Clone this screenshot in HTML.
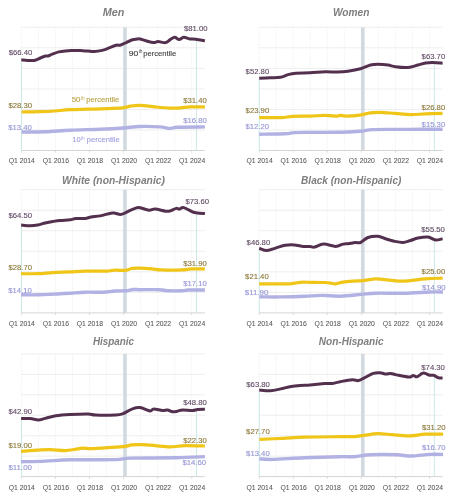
<!DOCTYPE html>
<html><head><meta charset="utf-8"><style>
html,body{margin:0;padding:0;background:#fff;width:464px;height:494px;overflow:hidden}
svg{display:block;font-family:"Liberation Sans",sans-serif;will-change:transform}
</style></head><body>
<svg width="464" height="494" viewBox="0 0 464 494">
<rect width="464" height="494" fill="#fff"/>
<line x1="21.40" y1="27.3" x2="21.40" y2="150.5" stroke="#ececec" stroke-width="0.8" stroke-dasharray="1.2 1.2"/>
<line x1="38.43" y1="27.3" x2="38.43" y2="150.5" stroke="#ececec" stroke-width="0.8" stroke-dasharray="1.2 1.2"/>
<line x1="55.46" y1="27.3" x2="55.46" y2="150.5" stroke="#ececec" stroke-width="0.8" stroke-dasharray="1.2 1.2"/>
<line x1="72.49" y1="27.3" x2="72.49" y2="150.5" stroke="#ececec" stroke-width="0.8" stroke-dasharray="1.2 1.2"/>
<line x1="89.52" y1="27.3" x2="89.52" y2="150.5" stroke="#ececec" stroke-width="0.8" stroke-dasharray="1.2 1.2"/>
<line x1="106.55" y1="27.3" x2="106.55" y2="150.5" stroke="#ececec" stroke-width="0.8" stroke-dasharray="1.2 1.2"/>
<line x1="123.58" y1="27.3" x2="123.58" y2="150.5" stroke="#ececec" stroke-width="0.8" stroke-dasharray="1.2 1.2"/>
<line x1="140.61" y1="27.3" x2="140.61" y2="150.5" stroke="#ececec" stroke-width="0.8" stroke-dasharray="1.2 1.2"/>
<line x1="157.64" y1="27.3" x2="157.64" y2="150.5" stroke="#ececec" stroke-width="0.8" stroke-dasharray="1.2 1.2"/>
<line x1="174.67" y1="27.3" x2="174.67" y2="150.5" stroke="#ececec" stroke-width="0.8" stroke-dasharray="1.2 1.2"/>
<line x1="191.70" y1="27.3" x2="191.70" y2="150.5" stroke="#ececec" stroke-width="0.8" stroke-dasharray="1.2 1.2"/>
<line x1="21.4" y1="27.30" x2="204.9" y2="27.30" stroke="#eeeeee" stroke-width="1"/>
<line x1="21.4" y1="47.83" x2="204.9" y2="47.83" stroke="#eeeeee" stroke-width="1"/>
<line x1="21.4" y1="68.37" x2="204.9" y2="68.37" stroke="#eeeeee" stroke-width="1"/>
<line x1="21.4" y1="88.90" x2="204.9" y2="88.90" stroke="#eeeeee" stroke-width="1"/>
<line x1="21.4" y1="109.43" x2="204.9" y2="109.43" stroke="#eeeeee" stroke-width="1"/>
<line x1="21.4" y1="129.97" x2="204.9" y2="129.97" stroke="#eeeeee" stroke-width="1"/>
<rect x="123.2" y="27.3" width="3.6" height="123.2" fill="#d2dadf"/>
<line x1="21.4" y1="150.5" x2="204.9" y2="150.5" stroke="#d4d4d4" stroke-width="1"/>
<line x1="21.40" y1="150.5" x2="21.40" y2="152.7" stroke="#d4d4d4" stroke-width="0.8"/>
<text x="21.80" y="163.4" font-size="7.7" fill="#5a5a5a" stroke="#5a5a5a" stroke-width="0.08" text-anchor="middle" textLength="26.2" lengthAdjust="spacingAndGlyphs">Q1 2014</text>
<line x1="55.46" y1="150.5" x2="55.46" y2="152.7" stroke="#d4d4d4" stroke-width="0.8"/>
<text x="55.86" y="163.4" font-size="7.7" fill="#5a5a5a" stroke="#5a5a5a" stroke-width="0.08" text-anchor="middle" textLength="26.2" lengthAdjust="spacingAndGlyphs">Q1 2016</text>
<line x1="89.52" y1="150.5" x2="89.52" y2="152.7" stroke="#d4d4d4" stroke-width="0.8"/>
<text x="89.92" y="163.4" font-size="7.7" fill="#5a5a5a" stroke="#5a5a5a" stroke-width="0.08" text-anchor="middle" textLength="26.2" lengthAdjust="spacingAndGlyphs">Q1 2018</text>
<line x1="123.58" y1="150.5" x2="123.58" y2="152.7" stroke="#d4d4d4" stroke-width="0.8"/>
<text x="123.98" y="163.4" font-size="7.7" fill="#5a5a5a" stroke="#5a5a5a" stroke-width="0.08" text-anchor="middle" textLength="26.2" lengthAdjust="spacingAndGlyphs">Q1 2020</text>
<line x1="157.64" y1="150.5" x2="157.64" y2="152.7" stroke="#d4d4d4" stroke-width="0.8"/>
<text x="158.04" y="163.4" font-size="7.7" fill="#5a5a5a" stroke="#5a5a5a" stroke-width="0.08" text-anchor="middle" textLength="26.2" lengthAdjust="spacingAndGlyphs">Q1 2022</text>
<line x1="191.70" y1="150.5" x2="191.70" y2="152.7" stroke="#d4d4d4" stroke-width="0.8"/>
<text x="192.10" y="163.4" font-size="7.7" fill="#5a5a5a" stroke="#5a5a5a" stroke-width="0.08" text-anchor="middle" textLength="26.2" lengthAdjust="spacingAndGlyphs">Q1 2024</text>
<line x1="21.5" y1="59.8" x2="21.5" y2="150.5" stroke="#c5e8e3" stroke-width="0.9"/>
<line x1="196.5" y1="39.4" x2="196.5" y2="150.5" stroke="#c5e8e3" stroke-width="0.9"/>
<path d="M21.60,132.00 C25.53,131.97 37.13,132.10 45.20,131.80 C53.27,131.50 60.83,130.63 70.00,130.20 C79.17,129.77 91.40,129.57 100.20,129.20 C109.00,128.83 116.17,128.45 122.80,128.00 C129.43,127.55 133.87,126.68 140.00,126.50 C146.13,126.32 154.57,126.58 159.60,126.90 C164.63,127.22 167.18,128.35 170.20,128.40 C173.22,128.45 171.92,127.45 177.70,127.20 C183.48,126.95 200.37,126.95 204.90,126.90" fill="none" stroke="#b1b1e3" stroke-width="3.4" stroke-linejoin="round"/>
<path d="M21.60,112.00 C24.53,111.95 33.63,111.87 39.20,111.70 C44.77,111.53 49.87,111.33 55.00,111.00 C60.13,110.67 62.47,110.07 70.00,109.70 C77.53,109.33 91.40,109.10 100.20,108.80 C109.00,108.50 117.78,108.35 122.80,107.90 C127.82,107.45 127.43,106.53 130.30,106.10 C133.17,105.67 135.87,105.17 140.00,105.30 C144.13,105.43 150.07,106.43 155.10,106.90 C160.13,107.37 165.93,107.93 170.20,108.10 C174.47,108.27 177.43,108.10 180.70,107.90 C183.97,107.70 185.77,107.07 189.80,106.90 C193.83,106.73 202.38,106.90 204.90,106.90" fill="none" stroke="#efc517" stroke-width="3.2" stroke-linejoin="round"/>
<path d="M21.30,59.80 C22.38,59.90 25.65,60.30 27.80,60.40 C29.95,60.50 32.27,60.72 34.20,60.40 C36.13,60.08 37.67,59.20 39.40,58.50 C41.13,57.80 43.20,56.62 44.60,56.20 C46.00,55.78 46.52,56.33 47.80,56.00 C49.08,55.67 50.47,54.88 52.30,54.20 C54.13,53.52 56.63,52.45 58.80,51.90 C60.97,51.35 63.15,51.12 65.30,50.90 C67.45,50.68 69.25,50.65 71.70,50.60 C74.15,50.55 77.32,50.52 80.00,50.60 C82.68,50.68 85.43,50.95 87.80,51.10 C90.17,51.25 91.83,51.62 94.20,51.50 C96.57,51.38 99.62,50.95 102.00,50.40 C104.38,49.85 106.13,49.07 108.50,48.20 C110.87,47.33 114.27,45.70 116.20,45.20 C118.13,44.70 118.58,45.57 120.10,45.20 C121.62,44.83 123.37,43.87 125.30,43.00 C127.23,42.13 129.77,40.65 131.70,40.00 C133.63,39.35 135.52,39.28 136.90,39.10 C138.28,38.92 138.48,38.62 140.00,38.90 C141.52,39.18 143.73,40.18 146.00,40.80 C148.27,41.42 151.58,42.47 153.60,42.60 C155.62,42.73 156.10,41.60 158.10,41.60 C160.10,41.60 163.58,42.93 165.60,42.60 C167.62,42.27 168.68,40.48 170.20,39.60 C171.72,38.72 173.20,37.30 174.70,37.30 C176.20,37.30 177.70,39.60 179.20,39.60 C180.70,39.60 181.93,37.42 183.70,37.30 C185.47,37.18 187.78,38.57 189.80,38.90 C191.82,39.23 193.28,38.98 195.80,39.30 C198.32,39.62 203.38,40.55 204.90,40.80" fill="none" stroke="#54304f" stroke-width="3.0" stroke-linejoin="round"/>
<text x="32.3" y="54.8" font-size="8.1" fill="#604a64" stroke="#604a64" stroke-width="0.12" text-anchor="end" textLength="23.6" lengthAdjust="spacingAndGlyphs">$66.40</text>
<text x="32.1" y="107.9" font-size="8.1" fill="#8c7838" stroke="#8c7838" stroke-width="0.12" text-anchor="end" textLength="23.6" lengthAdjust="spacingAndGlyphs">$28.30</text>
<text x="31.8" y="129.5" font-size="8.1" fill="#9494d6" stroke="#9494d6" stroke-width="0.12" text-anchor="end" textLength="23.6" lengthAdjust="spacingAndGlyphs">$13.40</text>
<text x="207.6" y="31.1" font-size="8.1" fill="#604a64" stroke="#604a64" stroke-width="0.12" text-anchor="end" textLength="23.6" lengthAdjust="spacingAndGlyphs">$81.00</text>
<text x="206.8" y="103.1" font-size="8.1" fill="#8c7838" stroke="#8c7838" stroke-width="0.12" text-anchor="end" textLength="23.6" lengthAdjust="spacingAndGlyphs">$31.40</text>
<text x="206.8" y="123.2" font-size="8.1" fill="#9494d6" stroke="#9494d6" stroke-width="0.12" text-anchor="end" textLength="23.6" lengthAdjust="spacingAndGlyphs">$16.80</text>
<text x="113.5" y="15.8" font-size="10.4" font-weight="bold" font-style="italic" fill="#7e7e7e" text-anchor="middle" textLength="21.7" lengthAdjust="spacingAndGlyphs">Men</text>
<line x1="259.20" y1="27.3" x2="259.20" y2="150.5" stroke="#ececec" stroke-width="0.8" stroke-dasharray="1.2 1.2"/>
<line x1="276.23" y1="27.3" x2="276.23" y2="150.5" stroke="#ececec" stroke-width="0.8" stroke-dasharray="1.2 1.2"/>
<line x1="293.26" y1="27.3" x2="293.26" y2="150.5" stroke="#ececec" stroke-width="0.8" stroke-dasharray="1.2 1.2"/>
<line x1="310.29" y1="27.3" x2="310.29" y2="150.5" stroke="#ececec" stroke-width="0.8" stroke-dasharray="1.2 1.2"/>
<line x1="327.32" y1="27.3" x2="327.32" y2="150.5" stroke="#ececec" stroke-width="0.8" stroke-dasharray="1.2 1.2"/>
<line x1="344.35" y1="27.3" x2="344.35" y2="150.5" stroke="#ececec" stroke-width="0.8" stroke-dasharray="1.2 1.2"/>
<line x1="361.38" y1="27.3" x2="361.38" y2="150.5" stroke="#ececec" stroke-width="0.8" stroke-dasharray="1.2 1.2"/>
<line x1="378.41" y1="27.3" x2="378.41" y2="150.5" stroke="#ececec" stroke-width="0.8" stroke-dasharray="1.2 1.2"/>
<line x1="395.44" y1="27.3" x2="395.44" y2="150.5" stroke="#ececec" stroke-width="0.8" stroke-dasharray="1.2 1.2"/>
<line x1="412.47" y1="27.3" x2="412.47" y2="150.5" stroke="#ececec" stroke-width="0.8" stroke-dasharray="1.2 1.2"/>
<line x1="429.50" y1="27.3" x2="429.50" y2="150.5" stroke="#ececec" stroke-width="0.8" stroke-dasharray="1.2 1.2"/>
<line x1="259.2" y1="27.30" x2="442.7" y2="27.30" stroke="#eeeeee" stroke-width="1"/>
<line x1="259.2" y1="47.83" x2="442.7" y2="47.83" stroke="#eeeeee" stroke-width="1"/>
<line x1="259.2" y1="68.37" x2="442.7" y2="68.37" stroke="#eeeeee" stroke-width="1"/>
<line x1="259.2" y1="88.90" x2="442.7" y2="88.90" stroke="#eeeeee" stroke-width="1"/>
<line x1="259.2" y1="109.43" x2="442.7" y2="109.43" stroke="#eeeeee" stroke-width="1"/>
<line x1="259.2" y1="129.97" x2="442.7" y2="129.97" stroke="#eeeeee" stroke-width="1"/>
<rect x="361.0" y="27.3" width="3.6" height="123.2" fill="#d2dadf"/>
<line x1="259.2" y1="150.5" x2="442.7" y2="150.5" stroke="#d4d4d4" stroke-width="1"/>
<line x1="259.20" y1="150.5" x2="259.20" y2="152.7" stroke="#d4d4d4" stroke-width="0.8"/>
<text x="259.60" y="163.4" font-size="7.7" fill="#5a5a5a" stroke="#5a5a5a" stroke-width="0.08" text-anchor="middle" textLength="26.2" lengthAdjust="spacingAndGlyphs">Q1 2014</text>
<line x1="293.26" y1="150.5" x2="293.26" y2="152.7" stroke="#d4d4d4" stroke-width="0.8"/>
<text x="293.66" y="163.4" font-size="7.7" fill="#5a5a5a" stroke="#5a5a5a" stroke-width="0.08" text-anchor="middle" textLength="26.2" lengthAdjust="spacingAndGlyphs">Q1 2016</text>
<line x1="327.32" y1="150.5" x2="327.32" y2="152.7" stroke="#d4d4d4" stroke-width="0.8"/>
<text x="327.72" y="163.4" font-size="7.7" fill="#5a5a5a" stroke="#5a5a5a" stroke-width="0.08" text-anchor="middle" textLength="26.2" lengthAdjust="spacingAndGlyphs">Q1 2018</text>
<line x1="361.38" y1="150.5" x2="361.38" y2="152.7" stroke="#d4d4d4" stroke-width="0.8"/>
<text x="361.78" y="163.4" font-size="7.7" fill="#5a5a5a" stroke="#5a5a5a" stroke-width="0.08" text-anchor="middle" textLength="26.2" lengthAdjust="spacingAndGlyphs">Q1 2020</text>
<line x1="395.44" y1="150.5" x2="395.44" y2="152.7" stroke="#d4d4d4" stroke-width="0.8"/>
<text x="395.84" y="163.4" font-size="7.7" fill="#5a5a5a" stroke="#5a5a5a" stroke-width="0.08" text-anchor="middle" textLength="26.2" lengthAdjust="spacingAndGlyphs">Q1 2022</text>
<line x1="429.50" y1="150.5" x2="429.50" y2="152.7" stroke="#d4d4d4" stroke-width="0.8"/>
<text x="429.90" y="163.4" font-size="7.7" fill="#5a5a5a" stroke="#5a5a5a" stroke-width="0.08" text-anchor="middle" textLength="26.2" lengthAdjust="spacingAndGlyphs">Q1 2024</text>
<line x1="259.3" y1="78.3" x2="259.3" y2="150.5" stroke="#c5e8e3" stroke-width="0.9"/>
<line x1="434.3" y1="62.6" x2="434.3" y2="150.5" stroke="#c5e8e3" stroke-width="0.9"/>
<path d="M259.20,134.20 C263.53,134.13 279.35,134.07 285.20,133.80 C291.05,133.53 290.17,132.83 294.30,132.60 C298.43,132.37 302.87,132.45 310.00,132.40 C317.13,132.35 330.77,132.37 337.10,132.30 C343.43,132.23 344.10,132.18 348.00,132.00 C351.90,131.82 356.33,131.65 360.50,131.25 C364.67,130.85 366.75,129.91 373.00,129.60 C379.25,129.29 389.67,129.46 398.00,129.40 C406.33,129.34 415.57,129.28 423.00,129.25 C430.43,129.22 439.33,129.25 442.60,129.25" fill="none" stroke="#b1b1e3" stroke-width="3.4" stroke-linejoin="round"/>
<path d="M259.20,117.60 C262.78,117.60 275.10,117.80 280.70,117.60 C286.30,117.40 287.92,116.65 292.80,116.40 C297.68,116.15 304.62,116.27 310.00,116.10 C315.38,115.93 320.58,115.40 325.10,115.40 C329.62,115.40 334.58,116.10 337.10,116.10 C339.62,116.10 338.68,115.40 340.20,115.40 C341.72,115.40 342.93,116.15 346.20,116.10 C349.47,116.05 355.78,115.65 359.80,115.10 C363.82,114.55 366.93,113.27 370.30,112.80 C373.67,112.33 375.87,112.20 380.00,112.30 C384.13,112.40 390.07,113.02 395.10,113.40 C400.13,113.78 405.18,114.52 410.20,114.60 C415.22,114.68 419.80,114.10 425.20,113.90 C430.60,113.70 439.70,113.48 442.60,113.40" fill="none" stroke="#efc517" stroke-width="3.2" stroke-linejoin="round"/>
<path d="M259.20,78.30 C261.00,78.22 266.45,77.97 270.00,77.80 C273.55,77.63 277.50,77.83 280.50,77.30 C283.50,76.77 285.42,75.28 288.00,74.60 C290.58,73.92 292.33,73.50 296.00,73.20 C299.67,72.90 305.15,73.03 310.00,72.80 C314.85,72.57 320.58,71.93 325.10,71.80 C329.62,71.67 333.28,72.10 337.10,72.00 C340.92,71.90 344.10,71.74 348.00,71.20 C351.90,70.66 356.75,69.78 360.50,68.75 C364.25,67.72 367.58,65.75 370.50,65.00 C373.42,64.25 375.08,64.25 378.00,64.25 C380.92,64.25 385.08,64.58 388.00,65.00 C390.92,65.42 392.17,66.33 395.50,66.75 C398.83,67.17 404.25,67.79 408.00,67.50 C411.75,67.21 415.08,65.75 418.00,65.00 C420.92,64.25 423.00,63.42 425.50,63.00 C428.00,62.58 430.15,62.46 433.00,62.50 C435.85,62.54 441.00,63.12 442.60,63.25" fill="none" stroke="#54304f" stroke-width="3.0" stroke-linejoin="round"/>
<text x="269.2" y="74.0" font-size="8.1" fill="#604a64" stroke="#604a64" stroke-width="0.12" text-anchor="end" textLength="23.6" lengthAdjust="spacingAndGlyphs">$52.80</text>
<text x="269.2" y="113.3" font-size="8.1" fill="#8c7838" stroke="#8c7838" stroke-width="0.12" text-anchor="end" textLength="23.6" lengthAdjust="spacingAndGlyphs">$23.90</text>
<text x="269.0" y="129.4" font-size="8.1" fill="#9494d6" stroke="#9494d6" stroke-width="0.12" text-anchor="end" textLength="23.6" lengthAdjust="spacingAndGlyphs">$12.20</text>
<text x="445.2" y="58.9" font-size="8.1" fill="#604a64" stroke="#604a64" stroke-width="0.12" text-anchor="end" textLength="23.6" lengthAdjust="spacingAndGlyphs">$63.70</text>
<text x="445.2" y="110.1" font-size="8.1" fill="#8c7838" stroke="#8c7838" stroke-width="0.12" text-anchor="end" textLength="23.6" lengthAdjust="spacingAndGlyphs">$26.80</text>
<text x="445.2" y="126.7" font-size="8.1" fill="#9494d6" stroke="#9494d6" stroke-width="0.12" text-anchor="end" textLength="23.6" lengthAdjust="spacingAndGlyphs">$15.30</text>
<text x="351.2" y="15.8" font-size="10.4" font-weight="bold" font-style="italic" fill="#7e7e7e" text-anchor="middle" textLength="36.5" lengthAdjust="spacingAndGlyphs">Women</text>
<line x1="21.40" y1="189.7" x2="21.40" y2="312.9" stroke="#ececec" stroke-width="0.8" stroke-dasharray="1.2 1.2"/>
<line x1="38.43" y1="189.7" x2="38.43" y2="312.9" stroke="#ececec" stroke-width="0.8" stroke-dasharray="1.2 1.2"/>
<line x1="55.46" y1="189.7" x2="55.46" y2="312.9" stroke="#ececec" stroke-width="0.8" stroke-dasharray="1.2 1.2"/>
<line x1="72.49" y1="189.7" x2="72.49" y2="312.9" stroke="#ececec" stroke-width="0.8" stroke-dasharray="1.2 1.2"/>
<line x1="89.52" y1="189.7" x2="89.52" y2="312.9" stroke="#ececec" stroke-width="0.8" stroke-dasharray="1.2 1.2"/>
<line x1="106.55" y1="189.7" x2="106.55" y2="312.9" stroke="#ececec" stroke-width="0.8" stroke-dasharray="1.2 1.2"/>
<line x1="123.58" y1="189.7" x2="123.58" y2="312.9" stroke="#ececec" stroke-width="0.8" stroke-dasharray="1.2 1.2"/>
<line x1="140.61" y1="189.7" x2="140.61" y2="312.9" stroke="#ececec" stroke-width="0.8" stroke-dasharray="1.2 1.2"/>
<line x1="157.64" y1="189.7" x2="157.64" y2="312.9" stroke="#ececec" stroke-width="0.8" stroke-dasharray="1.2 1.2"/>
<line x1="174.67" y1="189.7" x2="174.67" y2="312.9" stroke="#ececec" stroke-width="0.8" stroke-dasharray="1.2 1.2"/>
<line x1="191.70" y1="189.7" x2="191.70" y2="312.9" stroke="#ececec" stroke-width="0.8" stroke-dasharray="1.2 1.2"/>
<line x1="21.4" y1="189.70" x2="204.9" y2="189.70" stroke="#eeeeee" stroke-width="1"/>
<line x1="21.4" y1="210.23" x2="204.9" y2="210.23" stroke="#eeeeee" stroke-width="1"/>
<line x1="21.4" y1="230.77" x2="204.9" y2="230.77" stroke="#eeeeee" stroke-width="1"/>
<line x1="21.4" y1="251.30" x2="204.9" y2="251.30" stroke="#eeeeee" stroke-width="1"/>
<line x1="21.4" y1="271.83" x2="204.9" y2="271.83" stroke="#eeeeee" stroke-width="1"/>
<line x1="21.4" y1="292.37" x2="204.9" y2="292.37" stroke="#eeeeee" stroke-width="1"/>
<rect x="123.2" y="189.7" width="3.6" height="123.2" fill="#d2dadf"/>
<line x1="21.4" y1="312.9" x2="204.9" y2="312.9" stroke="#d4d4d4" stroke-width="1"/>
<line x1="21.40" y1="312.9" x2="21.40" y2="315.1" stroke="#d4d4d4" stroke-width="0.8"/>
<text x="21.80" y="325.8" font-size="7.7" fill="#5a5a5a" stroke="#5a5a5a" stroke-width="0.08" text-anchor="middle" textLength="26.2" lengthAdjust="spacingAndGlyphs">Q1 2014</text>
<line x1="55.46" y1="312.9" x2="55.46" y2="315.1" stroke="#d4d4d4" stroke-width="0.8"/>
<text x="55.86" y="325.8" font-size="7.7" fill="#5a5a5a" stroke="#5a5a5a" stroke-width="0.08" text-anchor="middle" textLength="26.2" lengthAdjust="spacingAndGlyphs">Q1 2016</text>
<line x1="89.52" y1="312.9" x2="89.52" y2="315.1" stroke="#d4d4d4" stroke-width="0.8"/>
<text x="89.92" y="325.8" font-size="7.7" fill="#5a5a5a" stroke="#5a5a5a" stroke-width="0.08" text-anchor="middle" textLength="26.2" lengthAdjust="spacingAndGlyphs">Q1 2018</text>
<line x1="123.58" y1="312.9" x2="123.58" y2="315.1" stroke="#d4d4d4" stroke-width="0.8"/>
<text x="123.98" y="325.8" font-size="7.7" fill="#5a5a5a" stroke="#5a5a5a" stroke-width="0.08" text-anchor="middle" textLength="26.2" lengthAdjust="spacingAndGlyphs">Q1 2020</text>
<line x1="157.64" y1="312.9" x2="157.64" y2="315.1" stroke="#d4d4d4" stroke-width="0.8"/>
<text x="158.04" y="325.8" font-size="7.7" fill="#5a5a5a" stroke="#5a5a5a" stroke-width="0.08" text-anchor="middle" textLength="26.2" lengthAdjust="spacingAndGlyphs">Q1 2022</text>
<line x1="191.70" y1="312.9" x2="191.70" y2="315.1" stroke="#d4d4d4" stroke-width="0.8"/>
<text x="192.10" y="325.8" font-size="7.7" fill="#5a5a5a" stroke="#5a5a5a" stroke-width="0.08" text-anchor="middle" textLength="26.2" lengthAdjust="spacingAndGlyphs">Q1 2024</text>
<line x1="21.5" y1="225.0" x2="21.5" y2="312.9" stroke="#c5e8e3" stroke-width="0.9"/>
<line x1="196.5" y1="212.7" x2="196.5" y2="312.9" stroke="#c5e8e3" stroke-width="0.9"/>
<path d="M21.10,294.80 C23.87,294.80 31.67,294.93 37.70,294.80 C43.73,294.67 51.92,294.25 57.30,294.00 C62.68,293.75 65.37,293.60 70.00,293.30 C74.63,293.00 79.57,292.38 85.10,292.20 C90.63,292.02 98.18,292.40 103.20,292.20 C108.22,292.00 111.43,291.25 115.20,291.00 C118.97,290.75 122.78,290.95 125.80,290.70 C128.82,290.45 130.93,289.67 133.30,289.50 C135.67,289.33 135.62,289.67 140.00,289.70 C144.38,289.73 155.08,289.53 159.60,289.70 C164.12,289.87 163.33,290.53 167.10,290.70 C170.87,290.87 178.67,290.82 182.20,290.70 C185.73,290.58 184.52,290.12 188.30,290.00 C192.08,289.88 202.13,290.00 204.90,290.00" fill="none" stroke="#b1b1e3" stroke-width="3.4" stroke-linejoin="round"/>
<path d="M21.10,273.70 C23.87,273.70 32.42,273.88 37.70,273.70 C42.98,273.52 47.42,272.90 52.80,272.60 C58.18,272.30 64.62,272.15 70.00,271.90 C75.38,271.65 79.07,271.23 85.10,271.10 C91.13,270.97 101.18,271.27 106.20,271.10 C111.22,270.93 111.93,270.22 115.20,270.10 C118.47,269.98 123.03,270.68 125.80,270.40 C128.57,270.12 129.43,268.78 131.80,268.40 C134.17,268.02 136.62,268.02 140.00,268.10 C143.38,268.18 148.58,268.60 152.10,268.90 C155.62,269.20 156.08,269.73 161.10,269.90 C166.12,270.07 177.17,270.07 182.20,269.90 C187.23,269.73 187.52,269.07 191.30,268.90 C195.08,268.73 202.63,268.90 204.90,268.90" fill="none" stroke="#efc517" stroke-width="3.2" stroke-linejoin="round"/>
<path d="M21.10,225.00 C22.62,225.12 27.43,225.70 30.20,225.70 C32.97,225.70 35.20,225.45 37.70,225.00 C40.20,224.55 42.68,223.58 45.20,223.00 C47.72,222.42 50.28,221.93 52.80,221.50 C55.32,221.07 57.43,220.68 60.30,220.40 C63.17,220.12 67.38,220.12 70.00,219.80 C72.62,219.48 73.48,218.72 76.00,218.50 C78.52,218.28 82.58,218.75 85.10,218.50 C87.62,218.25 88.58,217.43 91.10,217.00 C93.62,216.57 96.93,216.53 100.20,215.90 C103.47,215.27 108.20,213.65 110.70,213.20 C113.20,212.75 113.43,213.00 115.20,213.20 C116.97,213.40 118.78,214.88 121.30,214.40 C123.82,213.92 127.78,211.38 130.30,210.30 C132.82,209.22 134.78,208.33 136.40,207.90 C138.02,207.47 137.90,207.32 140.00,207.70 C142.10,208.08 146.48,209.97 149.00,210.20 C151.52,210.43 152.33,208.93 155.10,209.10 C157.87,209.27 163.08,210.90 165.60,211.20 C168.12,211.50 168.43,211.37 170.20,210.90 C171.97,210.43 174.70,208.70 176.20,208.40 C177.70,208.10 177.95,209.23 179.20,209.10 C180.45,208.97 181.43,207.12 183.70,207.60 C185.97,208.08 190.53,211.12 192.80,212.00 C195.07,212.88 195.28,212.63 197.30,212.90 C199.32,213.17 203.63,213.48 204.90,213.60" fill="none" stroke="#54304f" stroke-width="3.0" stroke-linejoin="round"/>
<text x="32.0" y="217.9" font-size="8.1" fill="#604a64" stroke="#604a64" stroke-width="0.12" text-anchor="end" textLength="23.6" lengthAdjust="spacingAndGlyphs">$64.50</text>
<text x="32.1" y="270.4" font-size="8.1" fill="#8c7838" stroke="#8c7838" stroke-width="0.12" text-anchor="end" textLength="23.6" lengthAdjust="spacingAndGlyphs">$28.70</text>
<text x="31.8" y="292.5" font-size="8.1" fill="#9494d6" stroke="#9494d6" stroke-width="0.12" text-anchor="end" textLength="23.6" lengthAdjust="spacingAndGlyphs">$14.10</text>
<text x="209.0" y="204.1" font-size="8.1" fill="#604a64" stroke="#604a64" stroke-width="0.12" text-anchor="end" textLength="23.6" lengthAdjust="spacingAndGlyphs">$73.60</text>
<text x="206.8" y="266.1" font-size="8.1" fill="#8c7838" stroke="#8c7838" stroke-width="0.12" text-anchor="end" textLength="23.6" lengthAdjust="spacingAndGlyphs">$31.90</text>
<text x="206.8" y="286.2" font-size="8.1" fill="#9494d6" stroke="#9494d6" stroke-width="0.12" text-anchor="end" textLength="23.6" lengthAdjust="spacingAndGlyphs">$17.10</text>
<text x="113.5" y="183.6" font-size="10.4" font-weight="bold" font-style="italic" fill="#7e7e7e" text-anchor="middle" textLength="102.8" lengthAdjust="spacingAndGlyphs">White (non-Hispanic)</text>
<line x1="259.20" y1="189.7" x2="259.20" y2="312.9" stroke="#ececec" stroke-width="0.8" stroke-dasharray="1.2 1.2"/>
<line x1="276.23" y1="189.7" x2="276.23" y2="312.9" stroke="#ececec" stroke-width="0.8" stroke-dasharray="1.2 1.2"/>
<line x1="293.26" y1="189.7" x2="293.26" y2="312.9" stroke="#ececec" stroke-width="0.8" stroke-dasharray="1.2 1.2"/>
<line x1="310.29" y1="189.7" x2="310.29" y2="312.9" stroke="#ececec" stroke-width="0.8" stroke-dasharray="1.2 1.2"/>
<line x1="327.32" y1="189.7" x2="327.32" y2="312.9" stroke="#ececec" stroke-width="0.8" stroke-dasharray="1.2 1.2"/>
<line x1="344.35" y1="189.7" x2="344.35" y2="312.9" stroke="#ececec" stroke-width="0.8" stroke-dasharray="1.2 1.2"/>
<line x1="361.38" y1="189.7" x2="361.38" y2="312.9" stroke="#ececec" stroke-width="0.8" stroke-dasharray="1.2 1.2"/>
<line x1="378.41" y1="189.7" x2="378.41" y2="312.9" stroke="#ececec" stroke-width="0.8" stroke-dasharray="1.2 1.2"/>
<line x1="395.44" y1="189.7" x2="395.44" y2="312.9" stroke="#ececec" stroke-width="0.8" stroke-dasharray="1.2 1.2"/>
<line x1="412.47" y1="189.7" x2="412.47" y2="312.9" stroke="#ececec" stroke-width="0.8" stroke-dasharray="1.2 1.2"/>
<line x1="429.50" y1="189.7" x2="429.50" y2="312.9" stroke="#ececec" stroke-width="0.8" stroke-dasharray="1.2 1.2"/>
<line x1="259.2" y1="189.70" x2="442.7" y2="189.70" stroke="#eeeeee" stroke-width="1"/>
<line x1="259.2" y1="210.23" x2="442.7" y2="210.23" stroke="#eeeeee" stroke-width="1"/>
<line x1="259.2" y1="230.77" x2="442.7" y2="230.77" stroke="#eeeeee" stroke-width="1"/>
<line x1="259.2" y1="251.30" x2="442.7" y2="251.30" stroke="#eeeeee" stroke-width="1"/>
<line x1="259.2" y1="271.83" x2="442.7" y2="271.83" stroke="#eeeeee" stroke-width="1"/>
<line x1="259.2" y1="292.37" x2="442.7" y2="292.37" stroke="#eeeeee" stroke-width="1"/>
<rect x="361.0" y="189.7" width="3.6" height="123.2" fill="#d2dadf"/>
<line x1="259.2" y1="312.9" x2="442.7" y2="312.9" stroke="#d4d4d4" stroke-width="1"/>
<line x1="259.20" y1="312.9" x2="259.20" y2="315.1" stroke="#d4d4d4" stroke-width="0.8"/>
<text x="259.60" y="325.8" font-size="7.7" fill="#5a5a5a" stroke="#5a5a5a" stroke-width="0.08" text-anchor="middle" textLength="26.2" lengthAdjust="spacingAndGlyphs">Q1 2014</text>
<line x1="293.26" y1="312.9" x2="293.26" y2="315.1" stroke="#d4d4d4" stroke-width="0.8"/>
<text x="293.66" y="325.8" font-size="7.7" fill="#5a5a5a" stroke="#5a5a5a" stroke-width="0.08" text-anchor="middle" textLength="26.2" lengthAdjust="spacingAndGlyphs">Q1 2016</text>
<line x1="327.32" y1="312.9" x2="327.32" y2="315.1" stroke="#d4d4d4" stroke-width="0.8"/>
<text x="327.72" y="325.8" font-size="7.7" fill="#5a5a5a" stroke="#5a5a5a" stroke-width="0.08" text-anchor="middle" textLength="26.2" lengthAdjust="spacingAndGlyphs">Q1 2018</text>
<line x1="361.38" y1="312.9" x2="361.38" y2="315.1" stroke="#d4d4d4" stroke-width="0.8"/>
<text x="361.78" y="325.8" font-size="7.7" fill="#5a5a5a" stroke="#5a5a5a" stroke-width="0.08" text-anchor="middle" textLength="26.2" lengthAdjust="spacingAndGlyphs">Q1 2020</text>
<line x1="395.44" y1="312.9" x2="395.44" y2="315.1" stroke="#d4d4d4" stroke-width="0.8"/>
<text x="395.84" y="325.8" font-size="7.7" fill="#5a5a5a" stroke="#5a5a5a" stroke-width="0.08" text-anchor="middle" textLength="26.2" lengthAdjust="spacingAndGlyphs">Q1 2022</text>
<line x1="429.50" y1="312.9" x2="429.50" y2="315.1" stroke="#d4d4d4" stroke-width="0.8"/>
<text x="429.90" y="325.8" font-size="7.7" fill="#5a5a5a" stroke="#5a5a5a" stroke-width="0.08" text-anchor="middle" textLength="26.2" lengthAdjust="spacingAndGlyphs">Q1 2024</text>
<line x1="259.3" y1="248.2" x2="259.3" y2="312.9" stroke="#c5e8e3" stroke-width="0.9"/>
<line x1="434.3" y1="239.5" x2="434.3" y2="312.9" stroke="#c5e8e3" stroke-width="0.9"/>
<path d="M259.30,296.90 C263.27,296.90 275.53,297.00 283.10,296.90 C290.67,296.80 298.23,296.55 304.70,296.30 C311.17,296.05 316.02,295.42 321.90,295.40 C327.78,295.38 333.43,296.37 340.00,296.20 C346.57,296.03 355.38,294.90 361.30,294.40 C367.22,293.90 368.38,293.40 375.50,293.20 C382.62,293.00 394.92,293.40 404.00,293.20 C413.08,293.00 423.50,292.20 430.00,292.00 C436.50,291.80 440.83,292.00 443.00,292.00" fill="none" stroke="#b1b1e3" stroke-width="3.4" stroke-linejoin="round"/>
<path d="M259.20,283.80 C263.53,283.82 279.73,283.93 285.20,283.90 C290.67,283.87 289.48,283.87 292.00,283.60 C294.52,283.33 297.30,282.52 300.30,282.30 C303.30,282.08 305.87,282.27 310.00,282.30 C314.13,282.33 321.60,282.35 325.10,282.50 C328.60,282.65 329.25,282.98 331.00,283.20 C332.75,283.42 333.57,283.98 335.60,283.80 C337.63,283.62 340.18,282.55 343.20,282.10 C346.22,281.65 350.43,281.35 353.70,281.10 C356.97,280.85 359.53,280.93 362.80,280.60 C366.07,280.27 370.43,279.35 373.30,279.10 C376.17,278.85 375.12,278.77 380.00,279.10 C384.88,279.43 395.07,281.15 402.60,281.10 C410.13,281.05 418.53,279.28 425.20,278.80 C431.87,278.32 439.70,278.30 442.60,278.20" fill="none" stroke="#efc517" stroke-width="3.2" stroke-linejoin="round"/>
<path d="M259.20,248.20 C260.52,248.58 264.27,250.55 267.10,250.50 C269.93,250.45 273.18,248.77 276.20,247.90 C279.22,247.03 282.18,245.80 285.20,245.30 C288.22,244.80 291.28,244.72 294.30,244.90 C297.32,245.08 300.68,246.15 303.30,246.40 C305.92,246.65 308.13,246.28 310.00,246.40 C311.87,246.52 312.23,247.48 314.50,247.10 C316.77,246.72 320.08,244.22 323.60,244.10 C327.12,243.98 332.33,246.40 335.60,246.40 C338.87,246.40 341.13,244.54 343.20,244.10 C345.27,243.66 345.95,244.02 348.00,243.75 C350.05,243.48 353.42,242.71 355.50,242.50 C357.58,242.29 358.42,243.33 360.50,242.50 C362.58,241.67 365.08,238.54 368.00,237.50 C370.92,236.46 375.08,236.04 378.00,236.25 C380.92,236.46 382.79,237.92 385.50,238.75 C388.21,239.58 391.33,240.62 394.25,241.25 C397.17,241.88 400.29,242.62 403.00,242.50 C405.71,242.38 408.00,241.25 410.50,240.50 C413.00,239.75 415.08,238.58 418.00,238.00 C420.92,237.42 425.08,236.67 428.00,237.00 C430.92,237.33 433.07,239.71 435.50,240.00 C437.93,240.29 441.42,238.96 442.60,238.75" fill="none" stroke="#54304f" stroke-width="3.0" stroke-linejoin="round"/>
<text x="270.2" y="244.9" font-size="8.1" fill="#604a64" stroke="#604a64" stroke-width="0.12" text-anchor="end" textLength="23.6" lengthAdjust="spacingAndGlyphs">$46.80</text>
<text x="268.7" y="279.3" font-size="8.1" fill="#8c7838" stroke="#8c7838" stroke-width="0.12" text-anchor="end" textLength="23.6" lengthAdjust="spacingAndGlyphs">$21.40</text>
<text x="268.4" y="295.2" font-size="8.1" fill="#9494d6" stroke="#9494d6" stroke-width="0.12" text-anchor="end" textLength="23.6" lengthAdjust="spacingAndGlyphs">$11.90</text>
<text x="444.9" y="232.1" font-size="8.1" fill="#604a64" stroke="#604a64" stroke-width="0.12" text-anchor="end" textLength="23.6" lengthAdjust="spacingAndGlyphs">$55.50</text>
<text x="445.2" y="274.3" font-size="8.1" fill="#8c7838" stroke="#8c7838" stroke-width="0.12" text-anchor="end" textLength="23.6" lengthAdjust="spacingAndGlyphs">$25.00</text>
<text x="445.5" y="290.1" font-size="8.1" fill="#9494d6" stroke="#9494d6" stroke-width="0.12" text-anchor="end" textLength="23.6" lengthAdjust="spacingAndGlyphs">$14.90</text>
<text x="351.2" y="183.6" font-size="10.4" font-weight="bold" font-style="italic" fill="#7e7e7e" text-anchor="middle" textLength="100.3" lengthAdjust="spacingAndGlyphs">Black (non-Hispanic)</text>
<line x1="21.40" y1="353.9" x2="21.40" y2="476.6" stroke="#ececec" stroke-width="0.8" stroke-dasharray="1.2 1.2"/>
<line x1="38.43" y1="353.9" x2="38.43" y2="476.6" stroke="#ececec" stroke-width="0.8" stroke-dasharray="1.2 1.2"/>
<line x1="55.46" y1="353.9" x2="55.46" y2="476.6" stroke="#ececec" stroke-width="0.8" stroke-dasharray="1.2 1.2"/>
<line x1="72.49" y1="353.9" x2="72.49" y2="476.6" stroke="#ececec" stroke-width="0.8" stroke-dasharray="1.2 1.2"/>
<line x1="89.52" y1="353.9" x2="89.52" y2="476.6" stroke="#ececec" stroke-width="0.8" stroke-dasharray="1.2 1.2"/>
<line x1="106.55" y1="353.9" x2="106.55" y2="476.6" stroke="#ececec" stroke-width="0.8" stroke-dasharray="1.2 1.2"/>
<line x1="123.58" y1="353.9" x2="123.58" y2="476.6" stroke="#ececec" stroke-width="0.8" stroke-dasharray="1.2 1.2"/>
<line x1="140.61" y1="353.9" x2="140.61" y2="476.6" stroke="#ececec" stroke-width="0.8" stroke-dasharray="1.2 1.2"/>
<line x1="157.64" y1="353.9" x2="157.64" y2="476.6" stroke="#ececec" stroke-width="0.8" stroke-dasharray="1.2 1.2"/>
<line x1="174.67" y1="353.9" x2="174.67" y2="476.6" stroke="#ececec" stroke-width="0.8" stroke-dasharray="1.2 1.2"/>
<line x1="191.70" y1="353.9" x2="191.70" y2="476.6" stroke="#ececec" stroke-width="0.8" stroke-dasharray="1.2 1.2"/>
<line x1="21.4" y1="353.90" x2="204.9" y2="353.90" stroke="#eeeeee" stroke-width="1"/>
<line x1="21.4" y1="374.35" x2="204.9" y2="374.35" stroke="#eeeeee" stroke-width="1"/>
<line x1="21.4" y1="394.80" x2="204.9" y2="394.80" stroke="#eeeeee" stroke-width="1"/>
<line x1="21.4" y1="415.25" x2="204.9" y2="415.25" stroke="#eeeeee" stroke-width="1"/>
<line x1="21.4" y1="435.70" x2="204.9" y2="435.70" stroke="#eeeeee" stroke-width="1"/>
<line x1="21.4" y1="456.15" x2="204.9" y2="456.15" stroke="#eeeeee" stroke-width="1"/>
<rect x="123.2" y="353.9" width="3.6" height="122.7" fill="#d2dadf"/>
<line x1="21.4" y1="476.6" x2="204.9" y2="476.6" stroke="#d4d4d4" stroke-width="1"/>
<line x1="21.40" y1="476.6" x2="21.40" y2="478.8" stroke="#d4d4d4" stroke-width="0.8"/>
<text x="21.80" y="489.5" font-size="7.7" fill="#5a5a5a" stroke="#5a5a5a" stroke-width="0.08" text-anchor="middle" textLength="26.2" lengthAdjust="spacingAndGlyphs">Q1 2014</text>
<line x1="55.46" y1="476.6" x2="55.46" y2="478.8" stroke="#d4d4d4" stroke-width="0.8"/>
<text x="55.86" y="489.5" font-size="7.7" fill="#5a5a5a" stroke="#5a5a5a" stroke-width="0.08" text-anchor="middle" textLength="26.2" lengthAdjust="spacingAndGlyphs">Q1 2016</text>
<line x1="89.52" y1="476.6" x2="89.52" y2="478.8" stroke="#d4d4d4" stroke-width="0.8"/>
<text x="89.92" y="489.5" font-size="7.7" fill="#5a5a5a" stroke="#5a5a5a" stroke-width="0.08" text-anchor="middle" textLength="26.2" lengthAdjust="spacingAndGlyphs">Q1 2018</text>
<line x1="123.58" y1="476.6" x2="123.58" y2="478.8" stroke="#d4d4d4" stroke-width="0.8"/>
<text x="123.98" y="489.5" font-size="7.7" fill="#5a5a5a" stroke="#5a5a5a" stroke-width="0.08" text-anchor="middle" textLength="26.2" lengthAdjust="spacingAndGlyphs">Q1 2020</text>
<line x1="157.64" y1="476.6" x2="157.64" y2="478.8" stroke="#d4d4d4" stroke-width="0.8"/>
<text x="158.04" y="489.5" font-size="7.7" fill="#5a5a5a" stroke="#5a5a5a" stroke-width="0.08" text-anchor="middle" textLength="26.2" lengthAdjust="spacingAndGlyphs">Q1 2022</text>
<line x1="191.70" y1="476.6" x2="191.70" y2="478.8" stroke="#d4d4d4" stroke-width="0.8"/>
<text x="192.10" y="489.5" font-size="7.7" fill="#5a5a5a" stroke="#5a5a5a" stroke-width="0.08" text-anchor="middle" textLength="26.2" lengthAdjust="spacingAndGlyphs">Q1 2024</text>
<line x1="21.5" y1="418.6" x2="21.5" y2="476.6" stroke="#c5e8e3" stroke-width="0.9"/>
<line x1="196.5" y1="409.7" x2="196.5" y2="476.6" stroke="#c5e8e3" stroke-width="0.9"/>
<path d="M21.10,461.80 C25.12,461.68 37.05,461.43 45.20,461.10 C53.35,460.77 58.32,460.05 70.00,459.80 C81.68,459.55 105.23,459.88 115.30,459.60 C125.37,459.32 120.33,458.40 130.40,458.10 C140.47,457.80 163.28,458.05 175.70,457.80 C188.12,457.55 200.03,456.80 204.90,456.60" fill="none" stroke="#b1b1e3" stroke-width="3.4" stroke-linejoin="round"/>
<path d="M21.10,451.30 C23.83,451.12 32.68,450.48 37.50,450.20 C42.32,449.92 45.42,449.53 50.00,449.60 C54.58,449.67 60.83,450.63 65.00,450.60 C69.17,450.57 72.08,449.80 75.00,449.40 C77.92,449.00 80.00,448.33 82.50,448.20 C85.00,448.07 87.05,448.62 90.00,448.60 C92.95,448.58 94.73,448.42 100.20,448.10 C105.67,447.78 117.53,447.23 122.80,446.70 C128.07,446.17 128.52,445.25 131.80,444.90 C135.08,444.55 138.62,444.48 142.50,444.60 C146.38,444.72 150.48,445.23 155.10,445.60 C159.72,445.97 165.18,446.80 170.20,446.80 C175.22,446.80 179.42,445.73 185.20,445.60 C190.98,445.47 201.62,445.93 204.90,446.00" fill="none" stroke="#efc517" stroke-width="3.2" stroke-linejoin="round"/>
<path d="M21.10,418.60 C22.62,418.60 27.30,418.38 30.20,418.60 C33.10,418.82 36.00,419.93 38.50,419.90 C41.00,419.87 42.32,419.08 45.20,418.40 C48.08,417.72 51.67,416.45 55.80,415.80 C59.93,415.15 64.62,414.82 70.00,414.50 C75.38,414.18 83.83,413.80 88.10,413.90 C92.37,414.00 91.08,414.92 95.60,415.10 C100.12,415.28 110.72,415.22 115.20,415.00 C119.68,414.78 119.62,414.83 122.50,413.80 C125.38,412.77 129.58,409.83 132.50,408.80 C135.42,407.77 137.08,407.23 140.00,407.60 C142.92,407.97 147.71,410.78 150.00,411.00 C152.29,411.22 151.67,408.98 153.75,408.90 C155.83,408.82 160.21,410.32 162.50,410.50 C164.79,410.68 165.83,409.78 167.50,410.00 C169.17,410.22 170.83,411.60 172.50,411.80 C174.17,412.00 175.83,411.50 177.50,411.20 C179.17,410.90 180.00,410.12 182.50,410.00 C185.00,409.88 190.00,410.58 192.50,410.50 C195.00,410.42 195.43,409.71 197.50,409.50 C199.57,409.29 203.67,409.29 204.90,409.25" fill="none" stroke="#54304f" stroke-width="3.0" stroke-linejoin="round"/>
<text x="32.0" y="414.3" font-size="8.1" fill="#604a64" stroke="#604a64" stroke-width="0.12" text-anchor="end" textLength="23.6" lengthAdjust="spacingAndGlyphs">$42.90</text>
<text x="32.0" y="447.5" font-size="8.1" fill="#8c7838" stroke="#8c7838" stroke-width="0.12" text-anchor="end" textLength="23.6" lengthAdjust="spacingAndGlyphs">$19.00</text>
<text x="32.0" y="470.0" font-size="8.1" fill="#9494d6" stroke="#9494d6" stroke-width="0.12" text-anchor="end" textLength="23.6" lengthAdjust="spacingAndGlyphs">$11.00</text>
<text x="206.8" y="404.9" font-size="8.1" fill="#604a64" stroke="#604a64" stroke-width="0.12" text-anchor="end" textLength="23.6" lengthAdjust="spacingAndGlyphs">$48.80</text>
<text x="206.8" y="443.0" font-size="8.1" fill="#8c7838" stroke="#8c7838" stroke-width="0.12" text-anchor="end" textLength="23.6" lengthAdjust="spacingAndGlyphs">$22.30</text>
<text x="206.0" y="465.3" font-size="8.1" fill="#9494d6" stroke="#9494d6" stroke-width="0.12" text-anchor="end" textLength="23.6" lengthAdjust="spacingAndGlyphs">$14.60</text>
<text x="113.5" y="345.4" font-size="10.4" font-weight="bold" font-style="italic" fill="#7e7e7e" text-anchor="middle" textLength="41.2" lengthAdjust="spacingAndGlyphs">Hispanic</text>
<line x1="259.20" y1="353.9" x2="259.20" y2="476.6" stroke="#ececec" stroke-width="0.8" stroke-dasharray="1.2 1.2"/>
<line x1="276.23" y1="353.9" x2="276.23" y2="476.6" stroke="#ececec" stroke-width="0.8" stroke-dasharray="1.2 1.2"/>
<line x1="293.26" y1="353.9" x2="293.26" y2="476.6" stroke="#ececec" stroke-width="0.8" stroke-dasharray="1.2 1.2"/>
<line x1="310.29" y1="353.9" x2="310.29" y2="476.6" stroke="#ececec" stroke-width="0.8" stroke-dasharray="1.2 1.2"/>
<line x1="327.32" y1="353.9" x2="327.32" y2="476.6" stroke="#ececec" stroke-width="0.8" stroke-dasharray="1.2 1.2"/>
<line x1="344.35" y1="353.9" x2="344.35" y2="476.6" stroke="#ececec" stroke-width="0.8" stroke-dasharray="1.2 1.2"/>
<line x1="361.38" y1="353.9" x2="361.38" y2="476.6" stroke="#ececec" stroke-width="0.8" stroke-dasharray="1.2 1.2"/>
<line x1="378.41" y1="353.9" x2="378.41" y2="476.6" stroke="#ececec" stroke-width="0.8" stroke-dasharray="1.2 1.2"/>
<line x1="395.44" y1="353.9" x2="395.44" y2="476.6" stroke="#ececec" stroke-width="0.8" stroke-dasharray="1.2 1.2"/>
<line x1="412.47" y1="353.9" x2="412.47" y2="476.6" stroke="#ececec" stroke-width="0.8" stroke-dasharray="1.2 1.2"/>
<line x1="429.50" y1="353.9" x2="429.50" y2="476.6" stroke="#ececec" stroke-width="0.8" stroke-dasharray="1.2 1.2"/>
<line x1="259.2" y1="353.90" x2="442.7" y2="353.90" stroke="#eeeeee" stroke-width="1"/>
<line x1="259.2" y1="374.35" x2="442.7" y2="374.35" stroke="#eeeeee" stroke-width="1"/>
<line x1="259.2" y1="394.80" x2="442.7" y2="394.80" stroke="#eeeeee" stroke-width="1"/>
<line x1="259.2" y1="415.25" x2="442.7" y2="415.25" stroke="#eeeeee" stroke-width="1"/>
<line x1="259.2" y1="435.70" x2="442.7" y2="435.70" stroke="#eeeeee" stroke-width="1"/>
<line x1="259.2" y1="456.15" x2="442.7" y2="456.15" stroke="#eeeeee" stroke-width="1"/>
<rect x="361.0" y="353.9" width="3.6" height="122.7" fill="#d2dadf"/>
<line x1="259.2" y1="476.6" x2="442.7" y2="476.6" stroke="#d4d4d4" stroke-width="1"/>
<line x1="259.20" y1="476.6" x2="259.20" y2="478.8" stroke="#d4d4d4" stroke-width="0.8"/>
<text x="259.60" y="489.5" font-size="7.7" fill="#5a5a5a" stroke="#5a5a5a" stroke-width="0.08" text-anchor="middle" textLength="26.2" lengthAdjust="spacingAndGlyphs">Q1 2014</text>
<line x1="293.26" y1="476.6" x2="293.26" y2="478.8" stroke="#d4d4d4" stroke-width="0.8"/>
<text x="293.66" y="489.5" font-size="7.7" fill="#5a5a5a" stroke="#5a5a5a" stroke-width="0.08" text-anchor="middle" textLength="26.2" lengthAdjust="spacingAndGlyphs">Q1 2016</text>
<line x1="327.32" y1="476.6" x2="327.32" y2="478.8" stroke="#d4d4d4" stroke-width="0.8"/>
<text x="327.72" y="489.5" font-size="7.7" fill="#5a5a5a" stroke="#5a5a5a" stroke-width="0.08" text-anchor="middle" textLength="26.2" lengthAdjust="spacingAndGlyphs">Q1 2018</text>
<line x1="361.38" y1="476.6" x2="361.38" y2="478.8" stroke="#d4d4d4" stroke-width="0.8"/>
<text x="361.78" y="489.5" font-size="7.7" fill="#5a5a5a" stroke="#5a5a5a" stroke-width="0.08" text-anchor="middle" textLength="26.2" lengthAdjust="spacingAndGlyphs">Q1 2020</text>
<line x1="395.44" y1="476.6" x2="395.44" y2="478.8" stroke="#d4d4d4" stroke-width="0.8"/>
<text x="395.84" y="489.5" font-size="7.7" fill="#5a5a5a" stroke="#5a5a5a" stroke-width="0.08" text-anchor="middle" textLength="26.2" lengthAdjust="spacingAndGlyphs">Q1 2022</text>
<line x1="429.50" y1="476.6" x2="429.50" y2="478.8" stroke="#d4d4d4" stroke-width="0.8"/>
<text x="429.90" y="489.5" font-size="7.7" fill="#5a5a5a" stroke="#5a5a5a" stroke-width="0.08" text-anchor="middle" textLength="26.2" lengthAdjust="spacingAndGlyphs">Q1 2024</text>
<line x1="259.3" y1="390.0" x2="259.3" y2="476.6" stroke="#c5e8e3" stroke-width="0.9"/>
<line x1="434.3" y1="375.7" x2="434.3" y2="476.6" stroke="#c5e8e3" stroke-width="0.9"/>
<path d="M259.40,458.80 C261.55,458.90 264.75,459.58 272.30,459.40 C279.85,459.22 293.42,458.15 304.70,457.70 C315.98,457.25 331.75,456.87 340.00,456.70 C348.25,456.53 349.07,457.02 354.20,456.70 C359.33,456.38 363.68,455.12 370.80,454.80 C377.92,454.48 390.18,454.60 396.90,454.80 C403.62,455.00 405.58,456.07 411.10,456.00 C416.62,455.93 424.67,454.67 430.00,454.40 C435.33,454.13 440.92,454.40 443.10,454.40" fill="none" stroke="#b1b1e3" stroke-width="3.4" stroke-linejoin="round"/>
<path d="M259.40,439.40 C263.35,439.22 275.55,438.67 283.10,438.30 C290.65,437.93 295.22,437.47 304.70,437.20 C314.18,436.93 331.75,436.80 340.00,436.70 C348.25,436.60 350.25,436.82 354.20,436.60 C358.15,436.38 359.75,435.88 363.70,435.40 C367.65,434.92 373.17,433.82 377.90,433.70 C382.63,433.58 386.97,434.33 392.10,434.70 C397.23,435.07 403.17,435.98 408.70,435.90 C414.23,435.82 419.57,434.48 425.30,434.20 C431.03,433.92 440.13,434.20 443.10,434.20" fill="none" stroke="#efc517" stroke-width="3.2" stroke-linejoin="round"/>
<path d="M259.20,390.00 C261.03,390.12 266.62,390.88 270.20,390.70 C273.78,390.52 277.43,389.57 280.70,388.90 C283.97,388.23 286.53,387.28 289.80,386.70 C293.07,386.12 296.93,385.68 300.30,385.40 C303.67,385.12 305.87,385.32 310.00,385.00 C314.13,384.68 321.33,383.75 325.10,383.50 C328.87,383.25 330.08,383.80 332.60,383.50 C335.12,383.20 336.93,382.33 340.20,381.70 C343.47,381.07 349.18,379.88 352.20,379.70 C355.22,379.52 356.28,380.90 358.30,380.60 C360.32,380.30 361.80,379.10 364.30,377.90 C366.80,376.70 370.68,374.27 373.30,373.40 C375.92,372.53 377.88,372.58 380.00,372.70 C382.12,372.82 384.23,373.98 386.00,374.10 C387.77,374.22 388.83,373.27 390.60,373.40 C392.37,373.53 393.58,374.28 396.60,374.90 C399.62,375.52 405.93,376.98 408.70,377.10 C411.47,377.22 411.82,375.65 413.20,375.60 C414.58,375.55 415.50,377.17 417.00,376.80 C418.50,376.43 420.83,373.97 422.20,373.40 C423.57,372.83 423.93,373.08 425.20,373.40 C426.47,373.72 428.42,374.98 429.80,375.30 C431.18,375.62 432.00,374.87 433.50,375.30 C435.00,375.73 437.28,377.47 438.80,377.90 C440.32,378.33 441.97,377.90 442.60,377.90" fill="none" stroke="#54304f" stroke-width="3.0" stroke-linejoin="round"/>
<text x="269.9" y="387.0" font-size="8.1" fill="#604a64" stroke="#604a64" stroke-width="0.12" text-anchor="end" textLength="23.6" lengthAdjust="spacingAndGlyphs">$63.80</text>
<text x="269.7" y="434.0" font-size="8.1" fill="#8c7838" stroke="#8c7838" stroke-width="0.12" text-anchor="end" textLength="23.6" lengthAdjust="spacingAndGlyphs">$27.70</text>
<text x="269.7" y="456.0" font-size="8.1" fill="#9494d6" stroke="#9494d6" stroke-width="0.12" text-anchor="end" textLength="23.6" lengthAdjust="spacingAndGlyphs">$13.40</text>
<text x="444.9" y="370.4" font-size="8.1" fill="#604a64" stroke="#604a64" stroke-width="0.12" text-anchor="end" textLength="23.6" lengthAdjust="spacingAndGlyphs">$74.30</text>
<text x="445.5" y="429.5" font-size="8.1" fill="#8c7838" stroke="#8c7838" stroke-width="0.12" text-anchor="end" textLength="23.6" lengthAdjust="spacingAndGlyphs">$31.20</text>
<text x="445.5" y="449.6" font-size="8.1" fill="#9494d6" stroke="#9494d6" stroke-width="0.12" text-anchor="end" textLength="23.6" lengthAdjust="spacingAndGlyphs">$16.70</text>
<text x="351.2" y="345.4" font-size="10.4" font-weight="bold" font-style="italic" fill="#7e7e7e" text-anchor="middle" textLength="64.9" lengthAdjust="spacingAndGlyphs">Non-Hispanic</text>
<text x="128.8" y="55.8" font-size="7.6" fill="#383838" stroke="#383838" stroke-width="0.1" textLength="9.6" lengthAdjust="spacingAndGlyphs">90</text>
<text x="138.9" y="53.3" font-size="4.9" fill="#383838" textLength="3.5" lengthAdjust="spacingAndGlyphs">th</text>
<text x="143.3" y="55.8" font-size="7.6" fill="#383838" stroke="#383838" stroke-width="0.1" textLength="33.0" lengthAdjust="spacingAndGlyphs">percentile</text>
<text x="71.7" y="102.0" font-size="7.6" fill="#b8a040" stroke="#b8a040" stroke-width="0.1" textLength="8.8" lengthAdjust="spacingAndGlyphs">50</text>
<text x="81.0" y="99.5" font-size="4.9" fill="#b8a040" textLength="3.5" lengthAdjust="spacingAndGlyphs">th</text>
<text x="86.2" y="102.0" font-size="7.6" fill="#b8a040" stroke="#b8a040" stroke-width="0.1" textLength="33.0" lengthAdjust="spacingAndGlyphs">percentile</text>
<text x="72.2" y="142.3" font-size="7.6" fill="#9c9ce0" stroke="#9c9ce0" stroke-width="0.1" textLength="8.4" lengthAdjust="spacingAndGlyphs">10</text>
<text x="81.1" y="139.8" font-size="4.9" fill="#9c9ce0" textLength="3.5" lengthAdjust="spacingAndGlyphs">th</text>
<text x="86.7" y="142.3" font-size="7.6" fill="#9c9ce0" stroke="#9c9ce0" stroke-width="0.1" textLength="33.0" lengthAdjust="spacingAndGlyphs">percentile</text>
</svg>
</body></html>
